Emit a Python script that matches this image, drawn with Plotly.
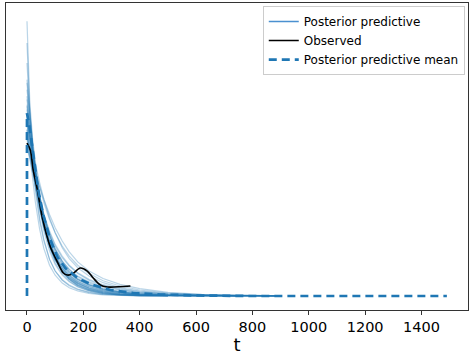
import plotly.graph_objects as go

# ---- data (density in units of 1e-3) ----
pp_t = [0, 5, 10, 20, 30, 45, 60, 80, 100, 125, 150, 180, 220, 270, 330, 400, 500, 620, 750, 900]
pp_curves = [
    [16.5, 13.5, 11.6, 9.4, 7.9, 6.0, 4.6, 3.2, 2.3, 1.5, 1.0, 0.62, 0.34, 0.16, 0.07, 0.03, 0.01, 0, 0, 0],
    [15.2, 13.0, 11.2, 9.0, 7.5, 5.7, 4.4, 3.1, 2.2, 1.5, 1.05, 0.7, 0.4, 0.2, 0.09, 0.04, 0.01, 0, 0, 0],
    [14.0, 12.4, 11.0, 8.9, 7.3, 5.6, 4.3, 3.0, 2.2, 1.5, 1.0, 0.66, 0.38, 0.2, 0.1, 0.05, 0.02, 0.01, 0, 0],
    [13.0, 12.0, 10.9, 8.8, 7.2, 5.4, 4.1, 2.9, 2.0, 1.35, 0.9, 0.58, 0.32, 0.15, 0.06, 0.02, 0, 0, 0, 0],
    [12.4, 11.6, 10.7, 9.0, 7.6, 5.9, 4.6, 3.3, 2.4, 1.65, 1.15, 0.78, 0.46, 0.24, 0.12, 0.05, 0.02, 0, 0, 0],
    [12.0, 11.2, 10.3, 8.7, 7.3, 5.6, 4.3, 3.0, 2.15, 1.45, 1.0, 0.65, 0.38, 0.2, 0.1, 0.05, 0.02, 0.01, 0, 0],
    [11.5, 10.8, 10.1, 8.8, 7.6, 6.0, 4.8, 3.6, 2.7, 1.95, 1.45, 1.0, 0.65, 0.38, 0.2, 0.1, 0.04, 0.015, 0.005, 0],
    [11.2, 10.6, 9.9, 8.5, 7.2, 5.6, 4.4, 3.2, 2.35, 1.65, 1.2, 0.82, 0.52, 0.3, 0.16, 0.08, 0.03, 0.01, 0, 0],
    [11.0, 10.4, 9.7, 8.4, 7.2, 5.7, 4.6, 3.4, 2.6, 1.9, 1.4, 1.0, 0.68, 0.42, 0.24, 0.13, 0.06, 0.025, 0.01, 0],
    [10.8, 10.2, 9.5, 8.2, 7.0, 5.4, 4.2, 3.0, 2.2, 1.55, 1.1, 0.75, 0.46, 0.26, 0.13, 0.06, 0.02, 0.005, 0, 0],
    [10.5, 10.0, 9.4, 8.3, 7.2, 5.9, 4.8, 3.7, 2.85, 2.1, 1.6, 1.15, 0.78, 0.48, 0.28, 0.16, 0.07, 0.03, 0.01, 0],
    [10.3, 9.8, 9.2, 8.0, 6.9, 5.5, 4.3, 3.2, 2.4, 1.7, 1.25, 0.88, 0.57, 0.34, 0.19, 0.1, 0.04, 0.015, 0.005, 0],
    [10.0, 9.6, 9.1, 8.1, 7.1, 5.8, 4.7, 3.6, 2.8, 2.1, 1.6, 1.2, 0.85, 0.56, 0.35, 0.2, 0.1, 0.045, 0.02, 0.005],
    [9.8, 9.3, 8.8, 7.7, 6.6, 5.2, 4.1, 3.0, 2.2, 1.55, 1.1, 0.76, 0.48, 0.28, 0.15, 0.07, 0.03, 0.01, 0, 0],
    [9.6, 9.2, 8.8, 7.9, 7.0, 5.8, 4.8, 3.8, 3.0, 2.3, 1.8, 1.35, 0.95, 0.62, 0.38, 0.22, 0.1, 0.045, 0.015, 0],
    [9.4, 9.0, 8.5, 7.5, 6.5, 5.2, 4.2, 3.1, 2.35, 1.7, 1.25, 0.88, 0.58, 0.35, 0.2, 0.1, 0.045, 0.02, 0.005, 0],
    [9.2, 8.9, 8.5, 7.7, 6.9, 5.8, 4.9, 3.9, 3.1, 2.4, 1.85, 1.4, 1.0, 0.68, 0.44, 0.26, 0.13, 0.06, 0.025, 0.01],
    [9.0, 8.6, 8.2, 7.3, 6.4, 5.2, 4.2, 3.2, 2.45, 1.8, 1.35, 0.98, 0.66, 0.42, 0.25, 0.14, 0.06, 0.025, 0.01, 0],
    [11.8, 11.0, 10.2, 8.6, 7.1, 5.3, 3.9, 2.7, 1.9, 1.25, 0.85, 0.54, 0.3, 0.14, 0.06, 0.02, 0, 0, 0, 0],
    [10.6, 10.1, 9.6, 8.5, 7.4, 6.0, 4.9, 3.7, 2.8, 2.05, 1.5, 1.05, 0.7, 0.42, 0.23, 0.12, 0.05, 0.02, 0.005, 0],
    [9.5, 9.2, 8.9, 8.2, 7.5, 6.5, 5.6, 4.6, 3.8, 3.0, 2.4, 1.85, 1.35, 0.92, 0.6, 0.36, 0.18, 0.08, 0.03, 0.01],
    [10.2, 9.9, 9.5, 8.7, 7.9, 6.8, 5.8, 4.7, 3.8, 2.9, 2.25, 1.7, 1.2, 0.8, 0.5, 0.3, 0.14, 0.06, 0.02, 0.005],
    [12.8, 11.8, 10.6, 8.4, 6.6, 4.7, 3.4, 2.2, 1.5, 0.95, 0.62, 0.38, 0.2, 0.09, 0.04, 0.01, 0, 0, 0, 0],
    [11.4, 10.6, 9.7, 7.9, 6.3, 4.5, 3.3, 2.2, 1.5, 0.98, 0.66, 0.42, 0.23, 0.11, 0.05, 0.02, 0, 0, 0, 0],
    [10.0, 9.3, 8.6, 7.0, 5.6, 4.0, 2.85, 1.85, 1.25, 0.78, 0.5, 0.3, 0.15, 0.07, 0.03, 0.01, 0, 0, 0, 0],
    [8.8, 8.6, 8.4, 7.9, 7.3, 6.5, 5.8, 4.9, 4.1, 3.3, 2.65, 2.05, 1.5, 1.05, 0.7, 0.44, 0.22, 0.1, 0.04, 0.015],
]

obs_t = [0, 12, 22, 37, 54, 83, 108, 129, 143, 161, 189, 214, 235, 260, 285, 367]
obs_y = [9.18, 8.76, 7.56, 6.36, 4.74, 2.94, 2.04, 1.38, 1.26, 1.32, 1.68, 1.5, 1.08, 0.66, 0.54, 0.6]

mean_t = [0, 0, 8, 15, 26, 40, 58, 83, 108, 136, 179, 225, 296, 377, 473, 615, 793, 1490]
mean_y = [0, 10.98, 10.26, 9.36, 7.86, 6.36, 4.86, 3.36, 2.34, 1.68, 1.08, 0.72, 0.36, 0.18, 0.09, 0.03, 0.0, 0.0]

x_ticks = [0, 200, 400, 600, 800, 1000, 1200, 1400]

BLUE = "#1f77b4"

fig = go.Figure()

for curve in pp_curves:
    n = len(curve)
    while n > 1 and curve[n - 1] == 0 and curve[n - 2] == 0:
        n -= 1
    fig.add_trace(go.Scatter(
        x=pp_t[:n], y=curve[:n], mode="lines",
        line=dict(color=BLUE, width=1.2), opacity=0.3,
        showlegend=False, hoverinfo="skip"))

# legend entry for posterior predictive
fig.add_trace(go.Scatter(
    x=[None], y=[None], mode="lines", name="Posterior predictive",
    line=dict(color="#4a90d0", width=1.5)))

fig.add_trace(go.Scatter(
    x=obs_t, y=obs_y, mode="lines", name="Observed",
    line=dict(color="black", width=1.6, shape="spline", smoothing=0.8)))

fig.add_trace(go.Scatter(
    x=mean_t, y=mean_y, mode="lines", name="Posterior predictive mean",
    line=dict(color=BLUE, width=2.7, dash="8px,5px")))

fig.update_layout(
    width=474, height=355,
    margin=dict(l=6, r=6, t=3, b=45),
    paper_bgcolor="white", plot_bgcolor="white",
    font=dict(family="DejaVu Sans", color="black"),
    showlegend=True,
    legend=dict(
        x=0.993, y=0.99, xanchor="right", yanchor="top",
        bgcolor="rgba(255,255,255,0.8)", bordercolor="#cccccc", borderwidth=1,
        font=dict(size=12, family="DejaVu Sans"),
        itemwidth=30, tracegroupgap=0,
    ),
    xaxis=dict(
        range=[-74.5, 1565], tickvals=x_ticks, ticktext=[str(v) for v in x_ticks],
        tickfont=dict(size=14.5), ticks="outside", ticklen=4, tickcolor="#333",
        showgrid=False, zeroline=False, automargin=False,
        showline=True, linecolor="#333", linewidth=1, mirror=True,
        title=dict(text="t", font=dict(size=18), standoff=0),
    ),
    yaxis=dict(
        range=[-0.84, 17.6], showticklabels=False, ticks="",
        showgrid=False, zeroline=False,
        showline=True, linecolor="#333", linewidth=1, mirror=True,
    ),
)

fig.write_html("out.html", config={"displayModeBar": False},
               post_script="document.body.style.margin='0px';")
